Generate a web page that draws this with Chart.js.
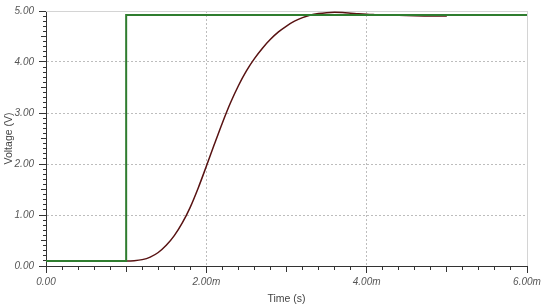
<!DOCTYPE html>
<html>
<head>
<meta charset="utf-8">
<script src="https://cdn.jsdelivr.net/npm/chart.js@4/dist/chart.umd.min.js"></script>
<style>
html,body{margin:0;padding:0;background:#fff;}
#wrap{width:550px;height:307px;}
</style>
</head>
<body>
<div id="wrap"><canvas id="c" width="550" height="307"></canvas></div>
<script>
// ---- data (time in ms, voltage in V) ----
const stepTime   = [0, 1.0, 1.0, 6.0];
const stepVolts  = [0.10, 0.10, 4.92, 4.92];

const respTime  = [0, 1.0, 1.1, 1.2, 1.3, 1.4, 1.5, 1.6, 1.7, 1.8, 1.9, 2.0, 2.1, 2.2, 2.3, 2.4, 2.5, 2.6, 2.7, 2.8, 2.9, 3.0, 3.1, 3.2, 3.3, 3.4, 3.5, 3.6, 3.7, 3.8, 3.9, 4.0, 4.1, 4.2, 4.4, 4.6, 4.8, 5.0];
const respVolts = [0.10, 0.10, 0.105, 0.125, 0.175, 0.265, 0.405, 0.595, 0.845, 1.155, 1.535, 1.955, 2.385, 2.805, 3.195, 3.535, 3.825, 4.065, 4.27, 4.445, 4.59, 4.705, 4.80, 4.87, 4.92, 4.95, 4.968, 4.974, 4.97, 4.958, 4.945, 4.935, 4.928, 4.922, 4.915, 4.905, 4.90, 4.90];

const xTickLabels = {0: '0.00', 2: '2.00m', 4: '4.00m', 6: '6.00m'};
const yTickLabels = {0: '0.00', 1: '1.00', 2: '2.00', 3: '3.00', 4: '4.00', 5: '5.00'};

const xAxisTitle = 'Time (s)';
const yAxisTitle = 'Voltage (V)';

const FONT = "'Liberation Sans', Arial, sans-serif";

function toPts(xs, ys){ return xs.map((x,i)=>({x:x, y:ys[i]})); }
function isMult(v, m){ const q = v/m; return Math.abs(q - Math.round(q)) < 1e-6; }

// light frame along the top and right edges of the plot area
const frame = {
  id: 'frame',
  beforeDatasetsDraw(chart){
    const ctx = chart.ctx;
    const a = chart.chartArea;
    ctx.save();
    ctx.fillStyle = '#d4d4d4';
    ctx.fillRect(Math.round(a.left), Math.round(a.top), Math.round(a.right - a.left) + 1, 1);
    ctx.fillRect(Math.round(a.right), Math.round(a.top), 1, Math.round(a.bottom - a.top));
    ctx.restore();
  }
};

new Chart(document.getElementById('c'), {
  type: 'line',
  data: {
    datasets: [
      {
        label: 'Input',
        data: toPts(stepTime, stepVolts),
        borderColor: '#2f7d2f',
        borderWidth: 2,
        pointRadius: 0,
        tension: 0
      },
      {
        label: 'Output',
        data: toPts(respTime, respVolts),
        borderColor: '#581212',
        borderWidth: 1.5,
        pointRadius: 0,
        cubicInterpolationMode: 'monotone'
      }
    ]
  },
  options: {
    responsive: false,
    animation: false,
    devicePixelRatio: 1,
    layout: { padding: { top: 11, right: 23, left: 0, bottom: 0 } },
    plugins: { legend: { display: false }, tooltip: { enabled: false } },
    scales: {
      x: {
        type: 'linear',
        min: 0, max: 6,
        afterFit(s){ s.height = 41; },
        ticks: {
          stepSize: 0.2,
          maxTicksLimit: 100,
          autoSkip: false,
          maxRotation: 0,
          padding: 3,
          color: '#555',
          font: { family: FONT, size: 10, style: 'italic' },
          callback(v){
            for (const k in xTickLabels) { if (Math.abs(v - Number(k)) < 1e-6) return xTickLabels[k]; }
            return '';
          }
        },
        grid: {
          drawTicks: true,
          tickLength: 7,
          tickColor: '#333',
          tickWidth: 1,
          tickBorderDash(c){
            const v = c.tick ? c.tick.value : 0;
            if (isMult(v, 2)) return [];
            if (isMult(v, 1)) return [5, 100];
            return [3, 100];
          },
          lineWidth: 1,
          color(c){
            if (!c.tick) return 'rgba(0,0,0,0)';
            const v = c.tick.value;
            if (Math.abs(v) < 1e-6 || Math.abs(v - 6) < 1e-6) return 'rgba(0,0,0,0)';
            return isMult(v, 2) ? '#bdbdbd' : 'rgba(0,0,0,0)';
          }
        },
        border: { display: true, color: '#333', width: 1, dash: [2, 2] },
        title: {
          display: true,
          text: xAxisTitle,
          color: '#444',
          font: { family: FONT, size: 10.5 },
          padding: { top: 0, bottom: 2 }
        }
      },
      y: {
        type: 'linear',
        min: 0, max: 5,
        afterFit(s){ s.width = 46; },
        ticks: {
          stepSize: 0.1,
          maxTicksLimit: 100,
          autoSkip: false,
          padding: 5,
          color: '#555',
          font: { family: FONT, size: 10, style: 'italic' },
          callback(v){
            for (const k in yTickLabels) { if (Math.abs(v - Number(k)) < 1e-6) return yTickLabels[k]; }
            return '';
          }
        },
        grid: {
          drawTicks: true,
          tickLength: 7,
          tickColor: '#333',
          tickWidth: 1,
          tickBorderDash(c){
            const v = c.tick ? c.tick.value : 0;
            if (isMult(v, 1)) return [];
            if (isMult(v, 0.5)) return [0, 2, 5, 100];
            return [0, 4, 3, 100];
          },
          lineWidth: 1,
          color(c){
            if (!c.tick) return 'rgba(0,0,0,0)';
            const v = c.tick.value;
            if (Math.abs(v) < 1e-6 || Math.abs(v - 5) < 1e-6) return 'rgba(0,0,0,0)';
            return isMult(v, 1) ? '#bdbdbd' : 'rgba(0,0,0,0)';
          }
        },
        border: { display: true, color: '#333', width: 1, dash: [2, 2] },
        title: {
          display: true,
          text: yAxisTitle,
          color: '#444',
          font: { family: FONT, size: 10.5 },
          padding: { top: 3, bottom: 0 }
        }
      }
    }
  },
  plugins: [frame]
});
</script>
</body>
</html>
